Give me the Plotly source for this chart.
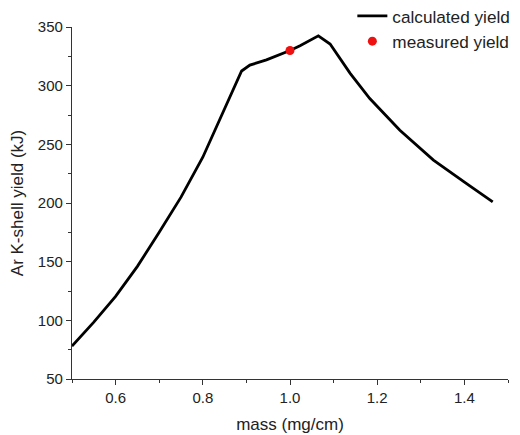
import plotly.graph_objects as go

# calculated yield curve
mass = [0.5, 0.55, 0.6, 0.65, 0.7, 0.75, 0.8, 0.85, 0.889,
        0.908, 0.946, 1.0, 1.023, 1.065, 1.092, 1.138, 1.183, 1.252,
        1.329, 1.405, 1.465]
yield_calc = [78, 98.5, 120.5, 146, 175, 205, 239, 280, 312.5,
              317.5, 322, 330, 334, 342.5, 335.5, 310.5, 289, 262,
              236.5, 216.5, 201]

# measured point
mass_meas = [1.0]
yield_meas = [330]

fig = go.Figure()

fig.add_trace(go.Scatter(
    x=mass, y=yield_calc,
    mode='lines',
    name='calculated yield',
    line=dict(color='black', width=2.8)
))
fig.add_trace(go.Scatter(
    x=mass_meas, y=yield_meas,
    mode='markers',
    name='measured yield',
    marker=dict(color='#ee1111', size=9)
))

axis_font = dict(family='Liberation Sans, Arial', size=15, color='#222')

# the page body has an 8px margin, so the figure is a bit smaller than the window
fig.update_layout(
    width=512, height=427,
    margin=dict(l=64, r=12, t=19, b=56, autoexpand=False),
    plot_bgcolor='white',
    paper_bgcolor='white',
    font=dict(family='Liberation Sans, Arial', color='#222'),
    showlegend=True,
    legend=dict(
        x=0.643, y=1.082, xanchor='left', yanchor='top',
        bgcolor='rgba(0,0,0,0)',
        font=dict(size=17.2, color='#222'),
        tracegroupgap=0,
        itemwidth=30,
    ),
    xaxis=dict(
        range=[0.5, 1.5],
        dtick=0.2, tick0=0.6, tickformat='.1f',
        ticks='outside', ticklen=5, tickcolor='#333',
        minor=dict(dtick=0.1, tick0=0.5, ticks='outside', ticklen=3, tickcolor='#333'),
        showline=True, linecolor='#333', linewidth=1.2,
        showgrid=False, zeroline=False, automargin=False,
        tickfont=axis_font,
        title=dict(text='mass (mg/cm)', font=dict(size=17, color='#222'), standoff=13),
    ),
    yaxis=dict(
        range=[50, 350],
        dtick=50,
        ticks='outside', ticklen=5, tickcolor='#333',
        minor=dict(dtick=25, ticks='outside', ticklen=3, tickcolor='#333'),
        showline=True, linecolor='#333', linewidth=1.2,
        showgrid=False, zeroline=False, automargin=False,
        tickfont=axis_font,
        title=dict(text='Ar K-shell yield (kJ)', font=dict(size=17, color='#222'), standoff=10),
    ),
)

fig.write_html("out.html")
